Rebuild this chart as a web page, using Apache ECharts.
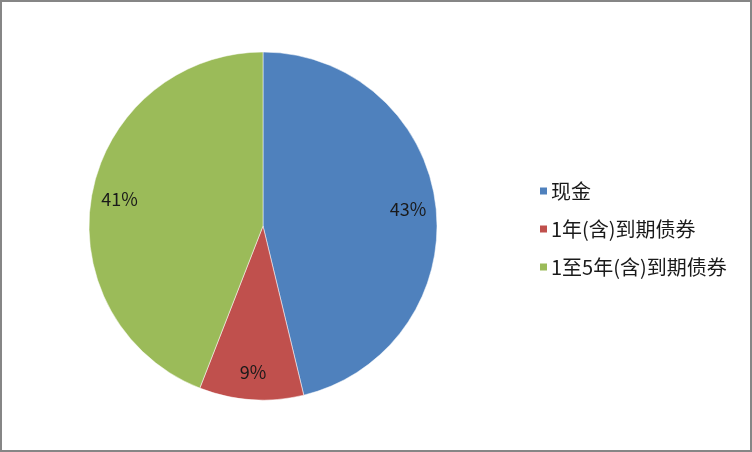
<!DOCTYPE html>
<html>
<head>
<meta charset="utf-8">
<script src="https://cdn.jsdelivr.net/npm/echarts@6/dist/echarts.min.js"></script>
<style>
  html, body { margin: 0; padding: 0; background: #fff; }
  #main { width: 752px; height: 452px; }
</style>
</head>
<body>
<div id="main"></div>
<script>
// 资产配置饼图
var categories = ['现金', '1年(含)到期债券', '1至5年(含)到期债券'];
var values = [43, 9, 41]; //标签显示的百分比
var colors = ['#4F81BD', '#C0504D', '#9BBB59'];

var pieData = [];
var labelData = [];
for (var i = 0; i < categories.length; i++) {
    pieData.push({ name: categories[i], value: values[i], itemStyle: { color: colors[i] } });
    labelData.push({ name: categories[i], value: values[i] });
}

var myChart = echarts.init(document.getElementById('main'));
var option = {
    backgroundColor: '#fff',
    animation: false,
    textStyle: { fontFamily: '"Noto Sans CJK SC", "Noto Sans", sans-serif' },
    graphic: [{
        type: 'rect',
        shape: { x: 1, y: 1, width: 750, height: 450 },
        style: { fill: null, stroke: '#868686', lineWidth: 2 }
    }],
    legend: {
        orient: 'vertical',
        left: 533,
        top: 176,
        itemWidth: 9,
        itemHeight: 9,
        itemGap: 18,
        icon: 'rect',
        data: categories.map(function (c, i) {
            return { name: c, itemStyle: { color: colors[i] } };
        }),
        textStyle: { fontSize: 20, lineHeight: 20, color: '#1a1a1a', padding: [0, 0, 0, -2] }
    },
    series: [
        {
            type: 'pie',
            center: [263, 226],
            radius: [0, 174],
            startAngle: 90,
            clockwise: true,
            label: { show: false },
            labelLine: { show: false },
            itemStyle: { borderColor: '#fff', borderWidth: 0.5 },
            emphasis: { disabled: true },
            data: pieData
        },
        {
            //只用于放置标签
            type: 'pie',
            center: [263, 226],
            radius: [136, 150],
            startAngle: 90,
            clockwise: true,
            silent: true,
            itemStyle: { color: 'rgba(0,0,0,0)' },
            label: {
                show: true,
                position: 'inside',
                formatter: '{c}%',
                fontSize: 18,
                color: '#1a1a1a'
            },
            labelLine: { show: false },
            emphasis: { disabled: true },
            data: labelData
        }
    ]
};
myChart.setOption(option);
</script>
</body>
</html>
